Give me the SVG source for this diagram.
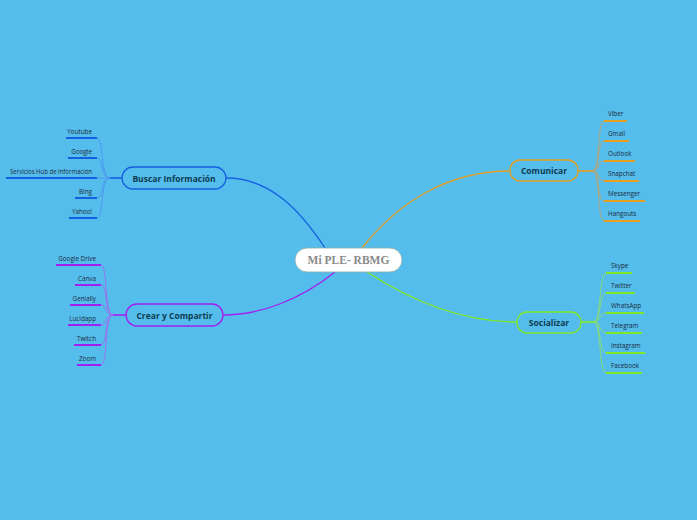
<svg xmlns="http://www.w3.org/2000/svg" width="697" height="520" viewBox="0 0 697 520">
<style>
.t{font-family:"Open Sans","Noto Sans",sans-serif;font-size:6.3px;fill:#1b2a3a}
.h{font-family:"Open Sans","Noto Sans",sans-serif;font-size:8.5px;font-weight:bold;fill:#0d3b4f;text-anchor:middle}
.c{fill:none;stroke-width:1.3}
.u{stroke-width:2}
.b{stroke:#1560e0}.p{stroke:#a020f0}.o{stroke:#e8a020}.g{stroke:#80e828}
.bl{stroke:#4a8ff0}.pl{stroke:#a860f0}.ol{stroke:#c8a060}.gl{stroke:#90e060}
</style>
<rect width="697" height="520" fill="#55bdec"/>
<g id="connectors" fill="none">
<path class="c b" d="M325,248 C300,210 270,178 226,178"/>
<path class="c p" d="M335,272 C300,300 260,315 223,315"/>
<path class="c o" d="M362,248 C400,200 450,171 510,171"/>
<path class="c g" d="M367,272 C410,300 460,322 517,322"/>
<g stroke-width="0.8">
<path class="bl" d="M122,178H110 M110,178C100,178 104,138 97,138 M110,178C100,178 104,158 97,158 M110,178H97 M110,178C100,178 104,198 97,198 M110,178C100,178 104,218 97,218"/>
<path class="pl" d="M126,315H113 M113,315C104,315 108,265 101,265 M113,315C104,315 108,285 101,285 M113,315C104,315 108,305 101,305 M113,315C104,315 108,325 101,325 M113,315C104,315 108,345 101,345 M113,315C104,315 108,365 101,365"/>
<path class="ol" d="M578,171H593 M593,171C600,171 597,121 604,121 M593,171C600,171 597,141 604,141 M593,171C600,171 597,161 604,161 M593,171C600,171 597,181 604,181 M593,171C600,171 597,201 604,201 M593,171C600,171 597,221 604,221"/>
<path class="gl" d="M581,322H594 M594,322C601,322 599,273 606,273 M594,322C601,322 599,293 606,293 M594,322C601,322 599,313 606,313 M594,322C601,322 599,333 606,333 M594,322C601,322 599,353 606,353 M594,322C601,322 599,373 606,373"/>
</g>
<g class="u">
<path class="b" d="M66,138H97M68,158H97M6,178H97M75,198H97M69,218H97"/>
<path class="p" d="M56,265H101M75,285H101M70,305H101M68,325H101M74,345H101M77,365H101"/>
<path class="o" d="M604,121H627M604,141H629M604,161H635M604,181H639M604,201H645M604,221H640"/>
<path class="g" d="M606,273H632M606,293H635M606,313H644M606,333H642M606,353H645M606,373H642"/>
<path class="b" d="M110,178H122" stroke-width="1.5"/><path class="p" d="M113,315H126" stroke-width="1.5"/>
<path class="o" d="M578,171H593" stroke-width="1.5"/><path class="g" d="M581,322H594" stroke-width="1.5"/>
</g>
</g>
<g id="center"><rect x="295" y="248" width="107" height="24" rx="12" fill="#fff" stroke="#8aa" stroke-width="0.8"/><text x="348.5" y="264" text-anchor="middle" font-family="Liberation Serif,serif" font-weight="bold" font-size="11.5" fill="#8a8a8a">Mi PLE- RBMG</text></g>
<g id="buscar"><rect x="122" y="167" width="104" height="22" rx="11" fill="#55bdec" stroke="#1560e0" stroke-width="1.3"/><text class="h" x="174" y="181.5">Buscar Información</text></g>
<g id="crear"><rect x="126" y="304" width="97" height="22" rx="11" fill="#55bdec" stroke="#a020f0" stroke-width="1.3"/><text class="h" x="174.5" y="318.5">Crear y Compartir</text></g>
<g id="comunicar"><rect x="510" y="160" width="68" height="21" rx="10" fill="#55bdec" stroke="#e8a020" stroke-width="1.3"/><text class="h" x="544" y="174">Comunicar</text></g>
<g id="socializar"><rect x="517" y="312" width="64" height="21" rx="10" fill="#55bdec" stroke="#80e828" stroke-width="1.3"/><text class="h" x="549" y="326">Socializar</text></g>
<g id="leaves-buscar" text-anchor="end"><text class="t" x="92" y="134">Youtube</text><text class="t" x="92" y="154">Google</text><text class="t" x="92" y="174" textLength="82" lengthAdjust="spacingAndGlyphs">Servicios Hub de información</text><text class="t" x="92" y="194">Bing</text><text class="t" x="92" y="214">Yahoo!</text></g>
<g id="leaves-crear" text-anchor="end"><text class="t" x="96" y="261">Google Drive</text><text class="t" x="96" y="281">Canva</text><text class="t" x="96" y="301">Genially</text><text class="t" x="96" y="321">Lucidapp</text><text class="t" x="96" y="341">Twitch</text><text class="t" x="96" y="361">Zoom</text></g>
<g id="leaves-comunicar"><text class="t" x="608" y="116">Viber</text><text class="t" x="608" y="136">Gmail</text><text class="t" x="608" y="156">Outlook</text><text class="t" x="608" y="176">Snapchat</text><text class="t" x="608" y="196">Messenger</text><text class="t" x="608" y="216">Hangouts</text></g>
<g id="leaves-socializar"><text class="t" x="611" y="268">Skype</text><text class="t" x="611" y="288">Twitter</text><text class="t" x="611" y="308">WhatsApp</text><text class="t" x="611" y="328">Telegram</text><text class="t" x="611" y="348">Instagram</text><text class="t" x="611" y="368">Facebook</text></g>
</svg>
